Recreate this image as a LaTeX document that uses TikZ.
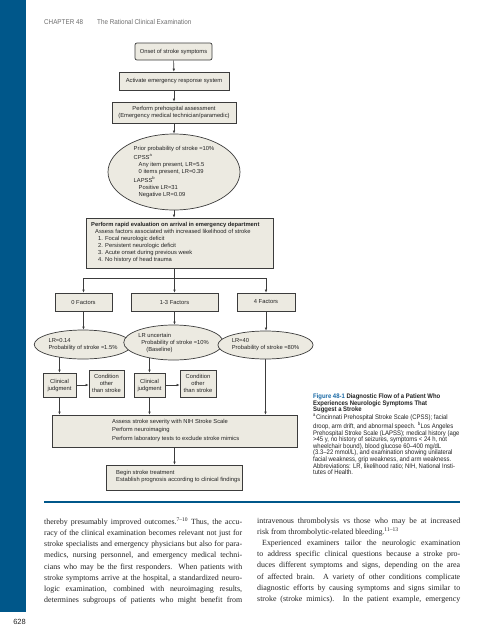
\documentclass[tikz,border=0pt]{standalone}
\usepackage{fontspec}
\setmainfont{Liberation Serif}
\setsansfont{Liberation Sans}
\newfontfamily\diagfont{Liberation Sans}
\newfontfamily\condfont[FakeStretch=0.9]{Liberation Sans}
\usetikzlibrary{arrows.meta,shapes.geometric,backgrounds}

\definecolor{sideblue}{RGB}{0,87,138}
\definecolor{figblue}{RGB}{25,105,165}
\definecolor{boxfill}{RGB}{236,234,225}
\definecolor{boxline}{RGB}{60,60,60}
\definecolor{txt}{RGB}{35,35,35}
\definecolor{hdrgray}{RGB}{110,110,110}

\newcommand\dg{\diagfont\fontsize{5.8}{7}\selectfont}
\newcommand\capfont{\condfont\fontsize{6.6}{6.64}\selectfont}
\newcommand\jl[1]{\noindent\makebox[\linewidth][s]{#1}\par}
\newcommand\nl[1]{\noindent #1\par}

\begin{document}
\begin{tikzpicture}[x=1pt,y=-1pt,
  box/.style={draw=boxline, fill=boxfill, line width=0.7pt, inner sep=0pt, text=txt, font=\dg, align=center},
  oval/.style={box, ellipse},
  arr/.style={draw=boxline, line width=0.6pt, -{Latex[length=3pt,width=2.6pt]}},
  ln/.style={draw=boxline, line width=0.6pt},
  lbl/.style={inner sep=0pt, text=txt, font=\dg, align=left, anchor=north west}]

\useasboundingbox (0,0) rectangle (500,638);

% sidebar and header
\fill[sideblue] (0,0) rectangle (26,612);
\node[anchor=base east, inner sep=0pt, font=\sffamily\fontsize{7.5}{8}\selectfont, text=txt] (pagenum) at (26,624) {628};
\node[anchor=base west, inner sep=0pt, font=\condfont\fontsize{7}{8}\selectfont, text=hdrgray] (chap) at (44,24) {CHAPTER 48};
\node[anchor=base west, inner sep=0pt, font=\condfont\fontsize{7}{8}\selectfont, text=hdrgray] (title) at (97,24) {The Rational Clinical Examination};

% flow chart
\node[box, rounded corners=2pt, minimum width=77pt, minimum height=17pt] (onset) at (173.5,51.5) {Onset of stroke symptoms};
\node[box, minimum width=110pt, minimum height=18pt] (activate) at (174,81) {Activate emergency response system};
\node[box, minimum width=124pt, minimum height=21pt] (prehosp) at (174,112.5) {Perform prehospital assessment\\(Emergency medical technician/paramedic)};
\node[oval, minimum width=132pt, minimum height=76pt, align=left] (prior) at (174,172) {Prior probability of stroke ≈10\%\\[1.6pt]
CPSS\textsuperscript{a}\\
\hspace*{5pt}Any item present, LR=5.5\\
\hspace*{5pt}0 items present, LR=0.39\\[1.6pt]
LAPSS\textsuperscript{b}\\
\hspace*{5pt}Positive LR=31\\
\hspace*{5pt}Negative LR=0.09};

\node[box, minimum width=187pt, minimum height=50pt] (rapid) at (179.5,243) {};
\node[lbl] (rapidtxt) at (91,222.5) {\textbf{Perform rapid evaluation on arrival in emergency department}\\
\hspace*{4pt}Assess factors associated with increased likelihood of stroke\\
\hspace*{7pt}1. Focal neurologic deficit\\
\hspace*{7pt}2. Persistent neurologic deficit\\
\hspace*{7pt}3. Acute onset during previous week\\
\hspace*{7pt}4. No history of head trauma};

\coordinate (junc) at (174.5,278);
\node[box, minimum width=57pt, minimum height=18pt] (f0) at (83.5,302) {0 Factors};
\node[box, minimum width=87pt, minimum height=18pt] (f13) at (174.5,302) {1-3 Factors};
\node[box, minimum width=58pt, minimum height=18pt] (f4) at (266,302) {4 Factors};

\node[oval, minimum width=80pt, minimum height=29pt, align=left] (e0) at (83,344.5) {LR=0.14\\Probability of stroke ≈1.5\%};
\node[oval, minimum width=81pt, minimum height=35pt, align=left] (e13) at (173.5,342.5) {LR uncertain\\\hspace*{3pt}Probability of stroke ≈10\%\\\hspace*{8pt}(Baseline)};
\node[oval, minimum width=81pt, minimum height=28pt, align=left] (e4) at (265.5,345) {LR=40\\Probability of stroke ≈80\%};

\node[box, minimum width=33pt, minimum height=24pt] (cj1) at (59.5,385) {Clinical\\judgment};
\node[box, minimum width=35pt, minimum height=27pt] (co1) at (106.5,383.5) {Condition\\other\\than stroke};
\node[box, minimum width=31pt, minimum height=24pt] (cj2) at (149.5,385) {Clinical\\judgment};
\node[box, minimum width=36pt, minimum height=27pt] (co2) at (198,383.5) {Condition\\other\\than stroke};

\node[box, minimum width=245pt, minimum height=32pt] (big2) at (174.5,431) {};
\node[lbl] (big2txt) at (112,419) {Assess stroke severity with NIH Stroke Scale\\[1.5pt]
Perform neuroimaging\\[1.5pt]
Perform laboratory tests to exclude stroke mimics};

\node[box, minimum width=136pt, minimum height=25pt] (final) at (174,477.5) {};
\node[lbl] (finaltxt) at (116,470) {Begin stroke treatment\\
Establish prognosis according to clinical findings};

% connectors
\begin{scope}[on background layer]
\fill[white] (0,0) rectangle (500,638);
\draw[arr] (onset) -- (activate);
\draw[arr] (activate) -- (prehosp);
\draw[arr] (prehosp) -- (prior);
\draw[arr] (prior.south) -- (prior.south |- rapid.north);
\draw[arr] (f13.north |- rapid.south) -- (f13.north);
\draw[ln] (junc -| f0.north) -- (junc -| f4.north);
\draw[arr] (junc -| f0.north) -- (f0.north);
\draw[arr] (junc -| f4.north) -- (f4.north);
\draw[arr] (f0.south) -- (f0.south |- e0.north);
\draw[arr] (f13.south) -- (f13.south |- e13.north);
\draw[arr] (f4.south) -- (f4.south |- e4.north);
\draw[arr] (cj1.north |- e0.center) -- (cj1.north);
\draw[arr] (cj2.north |- e13.center) -- (cj2.north);
\draw[arr] (e4.center) -- (e4.center |- big2.north);
\draw[arr] (cj1.east) -- (co1.west |- cj1.east);
\draw[arr] (cj2.east) -- (co2.west |- cj2.east);
\draw[arr] (cj1.south) -- (cj1.south |- big2.north);
\draw[arr] (cj2.south) -- (cj2.south |- big2.north);
\draw[arr] (big2.south) -- (big2.south |- final.north);
\end{scope}

% caption
\node[anchor=north west, inner sep=0pt, font=\capfont, text=txt, align=left] (caption) at (313,393.5) {{\color{figblue}\textbf{Figure 48-1}} \textbf{Diagnostic Flow of a Patient Who}\\
\textbf{Experiences Neurologic Symptoms That}\\
\textbf{Suggest a Stroke}\\
\textsuperscript{a}Cincinnati Prehospital Stroke Scale (CPSS); facial\\
droop, arm drift, and abnormal speech. \textsuperscript{b}Los Angeles\\
Prehospital Stroke Scale (LAPSS); medical history (age\\
>45 y, no history of seizures, symptoms < 24 h, not\\
wheelchair bound), blood glucose 60–400 mg/dL\\
(3.3–22 mmol/L), and examination showing unilateral\\
facial weakness, grip weakness, and arm weakness.\\
Abbreviations: LR, likelihood ratio; NIH, National Insti-\\
tutes of Health.};

% rule
\draw[sideblue, line width=2pt] (44,502) -- (460,502);

% body text
\node[anchor=north west, inner sep=0pt, text=txt] (colL) at (44,517.5) {\parbox{198pt}{\fontsize{7.9}{11.2}\selectfont
\jl{thereby presumably improved outcomes.\textsuperscript{7–10} Thus, the accu-}
\jl{racy of the clinical examination becomes relevant not just for}
\jl{stroke specialists and emergency physicians but also for para-}
\jl{medics, nursing personnel, and emergency medical techni-}
\jl{cians who may be the first responders. When patients with}
\jl{stroke symptoms arrive at the hospital, a standardized neuro-}
\jl{logic examination, combined with neuroimaging results,}
\jl{determines subgroups of patients who might benefit from}}};
\node[anchor=north west, inner sep=0pt, text=txt] (colR) at (257,517.5) {\parbox{203pt}{\fontsize{7.9}{11.2}\selectfont
\jl{intravenous thrombolysis vs those who may be at increased}
\nl{risk from thrombolytic-related bleeding.\textsuperscript{11–13}}
\jl{\hspace*{5pt}Experienced examiners tailor the neurologic examination}
\jl{to address specific clinical questions because a stroke pro-}
\jl{duces different symptoms and signs, depending on the area}
\jl{of affected brain. A variety of other conditions complicate}
\jl{diagnostic efforts by causing symptoms and signs similar to}
\jl{stroke (stroke mimics). In the patient example, emergency}}};

\end{tikzpicture}
\end{document}
